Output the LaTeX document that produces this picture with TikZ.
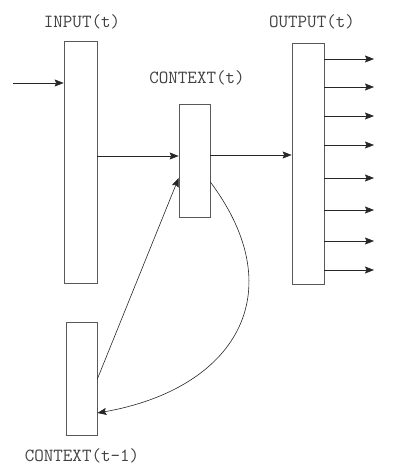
\documentclass[tikz,border=0pt]{standalone}
\usetikzlibrary{arrows.meta}
\begin{document}
\begin{tikzpicture}[x=1pt,y=-1pt,
  unit/.style={draw=black!65,line width=0.7pt,inner sep=0pt,fill=white},
  lbl/.style={font=\ttfamily\fontsize{18.5}{20}\selectfont,text=black!75,inner sep=0pt},
  conn/.style={draw=black!85,line width=0.6pt,-{Stealth[length=9pt,width=7pt,inset=1.5pt]}}]
\useasboundingbox (0,0) rectangle (412,472);
\node[unit,minimum width=33pt,minimum height=242pt] (inp) at (80.5,162) {};
\node[unit,minimum width=31pt,minimum height=113pt] (ctx) at (194.5,160.5) {};
\node[unit,minimum width=32pt,minimum height=241pt] (out) at (308,163.5) {};
\node[unit,minimum width=31pt,minimum height=113pt] (prev) at (81.5,378.5) {};
\node[lbl] (linp) at (82,22) {INPUT(t)};
\node[lbl] (lctx) at (197,78) {CONTEXT(t)};
\node[lbl] (lout) at (312,22) {OUTPUT(t)};
\node[lbl] (lprev) at (82,456) {CONTEXT(t-1)};
\coordinate (src) at (13,83);
\draw[conn] (src) -- (src -| inp.west);
\draw[conn] ([yshift=6pt]inp.east) -- ([yshift=6pt]inp.east -| ctx.west);
\draw[conn] ([yshift=5.5pt]ctx.east) -- ([yshift=5.5pt]ctx.east -| out.west);
\foreach \i/\yy in {1/59,2/87,3/116,4/145,5/178,6/210,7/241,8/270}{
  \coordinate (o\i) at (374,\yy);
  \draw[conn] (o\i -| out.east) -- (o\i);
}
\draw[conn] ([yshift=-0.5pt]prev.east) -- ([yshift=-17.5pt]ctx.west);
\draw[conn] ([yshift=-21.5pt]ctx.east) .. controls (294,294) and (234,389) .. ([yshift=-34.5pt]prev.east);
\end{tikzpicture}
\end{document}
